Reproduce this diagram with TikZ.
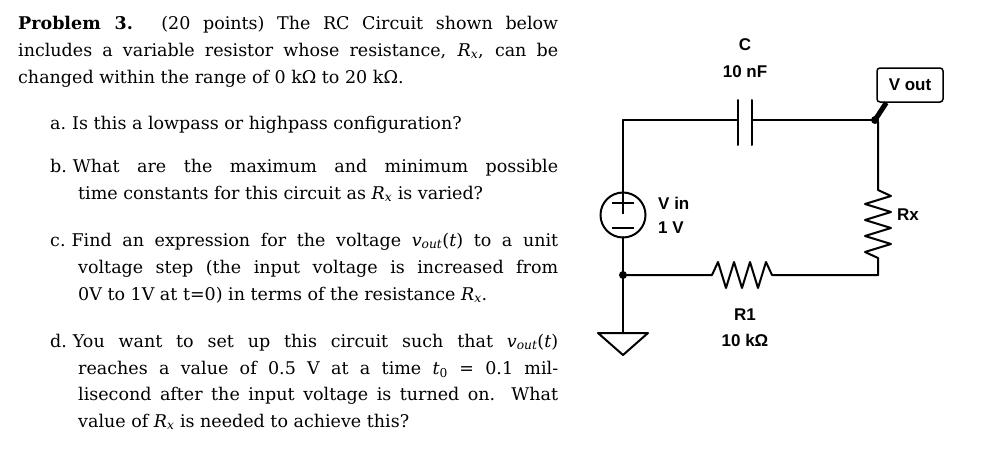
\documentclass[tikz,border=0pt]{standalone}
\usepackage{fontspec}
\setmainfont{DejaVu Serif}
\newfontfamily\cf{Liberation Sans}
\begin{document}
\begin{tikzpicture}[x=1pt,y=-1pt,
 tl/.style={anchor=base west,inner sep=0,font=\fontsize{17.5}{27}\selectfont},
 cl/.style={inner sep=0,font=\cf\bfseries\fontsize{17}{20}\selectfont},
 w/.style={line width=2pt,line join=round,line cap=round}]
\useasboundingbox (0,0) rectangle (988,458);
\newcommand\fl[1]{\makebox[540pt][s]{#1}}
\newcommand\fm[1]{\makebox[480pt][s]{#1}}
\newcommand\Rx{\textit{R}\textsubscript{\textit{x}}}
\newcommand\vout{\textit{v}\textsubscript{\textit{out}}(\textit{t})}
\node[tl] (p1) at (18,29) {\fl{\textbf{Problem 3.} (20 points) The RC Circuit shown below}};
\node[tl] (p2) at (18,56) {\fl{includes a variable resistor whose resistance, \Rx, can be}};
\node[tl] (p3) at (18,83) {changed within the range of 0 kΩ to 20 kΩ.};
\node[tl] (a1) at (50,129) {a.\hspace{6pt}Is this a lowpass or highpass configuration?};
\node[tl] (b1) at (50,172) {\makebox[508pt][s]{b.\hspace{6pt}What are the maximum and minimum possible}};
\node[tl] (b2) at (78,199) {time constants for this circuit as \Rx{} is varied?};
\node[tl] (c1) at (50,246) {\makebox[508pt][s]{c.\hspace{6pt}Find an expression for the voltage \vout{} to a unit}};
\node[tl] (c2) at (78,273) {\fm{voltage step (the input voltage is increased from}};
\node[tl] (c3) at (78,300) {0V to 1V at t=0) in terms of the resistance \Rx.};
\node[tl] (d1) at (50,347) {\makebox[508pt][s]{d.\hspace{6pt}You want to set up this circuit such that \vout}};
\node[tl] (d2) at (78,374) {\fm{reaches a value of 0.5 V at a time \textit{t}\textsubscript{0} = 0.1 mil-}};
\node[tl] (d3) at (78,400) {\fm{lisecond after the input voltage is turned on. What}};
\node[tl] (d4) at (78,427) {value of \Rx{} is needed to achieve this?};
% circuit
\coordinate (tl) at (623,120); \coordinate (tr) at (875,120);
\coordinate (bl) at (623,275); \coordinate (br) at (878,275);
\draw[w] (tl) -- (738,120) (752,120) -- (tr);
\draw[w] (738,100) -- (738,145) (752,100) -- (752,145);
\draw[w] (tl) -- (623,193) (623,237) -- (bl);
\node[draw,circle,line width=2pt,minimum size=45pt,inner sep=0] (vs) at (623,215) {};
\draw[line width=1.8pt] (612,203)--(634,203) (623,192)--(623,214) (612,228)--(634,228);
\draw[w] (bl) -- (712,275) -- (718,262) -- (726,288) -- (734,262) -- (742,288) -- (750,262) -- (758,288) -- (766,262) -- (772,275) -- (br);
\draw[w] (tr) -- (878,122) -- (878,190) -- (891,196) -- (865,204) -- (891,212) -- (865,220) -- (891,228) -- (865,236) -- (891,244) -- (865,252) -- (878,258) -- (br);
\draw[w] (bl) -- (623,333);
\draw[w] (598,333) -- (648,333) -- (623,355) -- cycle;
\fill (bl) circle (4pt) (tr) circle (4pt);
\node[cl,draw,line width=1.5pt,rounded corners=3pt,minimum width=66pt,minimum height=34pt] (vo) at (910,85) {V out};
\draw[line width=5pt] (tr) -- ([shift={(10pt,0)}]vo.south west);
\node[cl] (cn) at (745,45) {C};
\node[cl] (cv) at (745,72) {10 nF};
\node[cl,anchor=west] (vin) at (658,203) {V in};
\node[cl,anchor=west] (vv) at (658,228) {1 V};
\node[cl] (rx) at (908,215) {Rx};
\node[cl] (r1) at (745,315) {R1};
\node[cl] (r1v) at (745,340) {10 kΩ};
\end{tikzpicture}
\end{document}
